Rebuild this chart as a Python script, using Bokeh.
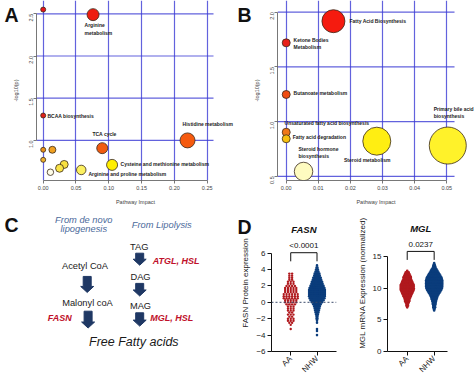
import math
from bokeh.plotting import figure
from bokeh.models import Range1d, FixedTicker, LinearAxis, NumeralTickFormatter, Span
from bokeh.layouts import row, column
from bokeh.embed import file_html
from bokeh.resources import INLINE
from bokeh.core.properties import value

FONT = "Liberation Sans"

# ---------------- Panel A data ----------------
a_impact = [0.0, 0.076, 0.0, 0.090, 0.220, 0.0, 0.014, 0.0, 0.032, 0.025, 0.011, 0.058, 0.105]
a_logp = [2.55, 2.49, 1.295, 0.908, 1.00, 0.889, 0.889, 0.77, 0.715, 0.67, 0.623, 0.65, 0.71]
a_size = [5, 12, 5, 11, 15, 5, 7, 5, 8, 8, 6.5, 9.5, 11]
a_color = ["#e8141a", "#ee1c10", "#e0201a", "#f05a10", "#f55a0f", "#e8901a", "#f0a020",
           "#eeb030", "#f8e040", "#fae448", "#fffde8", "#fcf060", "#ffee00"]
a_labels = ["Arginine\nmetabolism", "BCAA  biosynthesis", "TCA cycle", "Histidine metabolism",
            "Cysteine and methionine metabolism", "Arginine and proline metabolism"]
a_label_x = [0.063, 0.0065, 0.075, 0.2125, 0.118, 0.069]
a_label_y = [2.32, 1.295, 1.07, 1.19, 0.715, 0.597]
a_xticks = [0.0, 0.05, 0.10, 0.15, 0.20, 0.25]
a_yticks = [1.0, 1.5, 2.0, 2.5]

# ---------------- Panel B data ----------------
b_impact = [0.0147, 0.0, 0.0, 0.0, 0.0, 0.0054, 0.0282, 0.0503]
b_logp = [1.918, 1.72, 1.248, 0.903, 0.843, 0.544, 0.821, 0.781]
b_size = [23, 8, 8, 8, 8, 18.5, 28, 37]
b_color = ["#f51b0f", "#e8201a", "#f04c10", "#f07818", "#f8c010", "#fefbc0", "#ffee12", "#fff22a"]
b_labels = ["Fatty Acid Biosynthesis", "Ketone Bodies\nMetabolism", "Butanoate metabolism",
            "Unsaturated fatty acid biosynthesis", "Fatty acid degradation",
            "Steroid hormone\nbiosynthesis", "Steroid metabolism", "Primary bile acid\nbiosynthesis"]
b_label_x = [0.0197, 0.0023, 0.0023, -0.0005, 0.002, 0.0038, 0.018, 0.0459]
b_label_y = [1.924, 1.716, 1.265, 0.983, 0.855, 0.715, 0.653, 1.083]
b_xticks = [0.0, 0.01, 0.02, 0.03, 0.04, 0.05]
b_yticks = [0.5, 1.0, 1.5, 2.0]

# ---------------- Panel D data ----------------
groups = ["AA", "NHW"]
fasn_aa_levels = [3.5, 3.25, 3.0, 2.75, 2.5, 2.25, 2.0, 1.75, 1.5, 1.25, 1.0, 0.75, 0.5, 0.25, 0.0,
                  -0.25, -0.5, -0.75, -1.0, -1.25, -1.5, -1.75, -2.0, -2.25, -2.5, -2.75, -3.25]
fasn_aa_counts = [2, 2, 2, 2, 3, 3, 4, 5, 5, 5, 6, 6, 6, 5, 5, 4, 3, 3, 3, 2, 3, 2, 3, 3, 2, 1, 1]
fasn_nhw_levels = [4.5, 4.25, 4.0, 3.75, 3.5, 3.25, 3.0, 2.75, 2.5, 2.25, 2.0, 1.75, 1.5, 1.25, 1.0,
                   0.75, 0.5, 0.25, 0.0, -0.25, -0.5, -0.75, -1.0, -1.25, -1.5, -1.75, -2.0, -2.25,
                   -2.5, -3.25, -3.5, -4.0]
fasn_nhw_counts = [1, 2, 3, 4, 6, 7, 9, 10, 12, 13, 15, 17, 18, 18, 18, 18, 17, 15, 12, 9, 7, 6, 5,
                   4, 3, 2, 2, 1, 1, 1, 1, 1]
mgl_aa_levels = [12.75, 12.5, 12.25, 12.0, 11.75, 11.5, 11.25, 11.0, 10.75, 10.5, 10.25, 10.0, 9.75,
                 9.5, 9.25, 9.0, 8.75, 8.5, 8.25, 8.0, 7.75, 7.5, 7.25, 7.0]
mgl_aa_counts = [1, 3, 4, 5, 6, 6, 7, 8, 9, 10, 10, 10, 10, 9, 8, 7, 6, 5, 4, 4, 3, 2, 2, 1]
mgl_nhw_levels = [14.0, 13.75, 13.5, 13.25, 13.0, 12.75, 12.5, 12.25, 12.0, 11.75, 11.5, 11.25, 11.0,
                  10.75, 10.5, 10.25, 10.0, 9.75, 9.5, 9.25, 9.0, 8.75, 8.5, 8.25, 8.0, 7.75, 7.5,
                  7.25, 7.0, 6.75, 6.5]
mgl_nhw_counts = [1, 2, 3, 4, 6, 8, 10, 12, 14, 16, 17, 18, 18, 18, 18, 18, 17, 16, 14, 12, 10, 8, 7,
                  6, 5, 4, 4, 3, 3, 2, 1]
fasn_p = "<0.0001"
mgl_p = "0.0237"

# ---------------- Panel C diagram ----------------
c_black_text = ["TAG", "Acetyl CoA", "DAG", "Malonyl coA", "MAG"]
c_black_x = [138.8, 84.5, 140, 87, 140]
c_black_y = [40.3, 64.2, 78, 110.3, 114.7]
c_head_text = ["From de novo", "lipogenesis", "From Lipolysis"]
c_head_x = [83.3, 83.3, 161.3]
c_head_y = [7, 18, 12.5]
c_enzyme_text = ["ATGL, HSL", "FASN", "MGL, HSL"]
c_enzyme_x = [175.7, 59.2, 171.2]
c_enzyme_y = [57.8, 128.8, 128.8]
c_arrow_x = [139.2, 86.7, 139.2, 87.6, 139.2]
c_arrow_top = [48.3, 77.3, 86, 120.7, 122.7]
c_arrow_bottom = [63.3, 97.3, 101.7, 141.7, 139.3]

AX = "#555555"
GRID = "#3b3bd4"


def base_fig(w, h, xr, yr, bl, br, bt, bb, **kw):
    p = figure(width=w, height=h, x_range=Range1d(*xr), y_range=Range1d(*yr),
               output_backend="svg", toolbar_location=None,
               min_border_left=bl, min_border_right=br, min_border_top=bt, min_border_bottom=bb, **kw)
    p.outline_line_color = None
    p.background_fill_color = "white"
    p.border_fill_color = "white"
    return p


def panel_letter(p, letter, at, standoff):
    # the panel letter is drawn as the single label of an extra, line-less left axis
    ax = LinearAxis(ticker=FixedTicker(ticks=[at]), major_label_overrides={at: letter})
    ax.axis_line_color = None
    ax.major_tick_line_color = None
    ax.minor_tick_line_color = None
    ax.major_tick_out = 0
    ax.major_tick_in = 0
    ax.major_label_orientation = "horizontal"
    ax.major_label_standoff = standoff
    ax.major_label_text_font = FONT
    ax.major_label_text_font_size = "19.5px"
    ax.major_label_text_font_style = "bold"
    ax.major_label_text_color = "#111111"
    p.add_layout(ax, "left")


def style_pathway(p, xticks, yticks, xfmt, yfmt, grid_x0, grid_x1):
    p.xaxis.ticker = FixedTicker(ticks=xticks)
    p.yaxis.ticker = FixedTicker(ticks=yticks)
    p.xaxis.formatter = NumeralTickFormatter(format=xfmt)
    p.yaxis.formatter = NumeralTickFormatter(format=yfmt)
    p.xaxis.bounds = (xticks[0], xticks[-1])
    p.yaxis.bounds = (yticks[0], yticks[-1])
    p.yaxis.major_label_orientation = math.pi / 2
    for ax in p.axis:
        ax.major_label_text_font = FONT
        ax.major_label_text_font_size = "5.5px"
        ax.major_label_text_color = "#444444"
        ax.axis_label_text_font = FONT
        ax.axis_label_text_font_size = "5.5px"
        ax.axis_label_text_font_style = "normal"
        ax.axis_label_text_color = "#444444"
        ax.axis_line_color = AX
        ax.axis_line_width = 0.8
        ax.major_tick_line_color = AX
        ax.major_tick_line_width = 0.8
        ax.major_tick_out = 3
        ax.major_tick_in = 0
        ax.minor_tick_line_color = None
        ax.major_label_standoff = 2
    p.xaxis.axis_label = "Pathway Impact"
    p.yaxis.axis_label = "-log10(p)"
    p.xaxis.axis_label_standoff = 6
    p.yaxis.axis_label_standoff = 6
    p.xgrid.grid_line_color = GRID
    p.xgrid.grid_line_alpha = 0.8
    p.xgrid.grid_line_width = 1.2
    p.ygrid.visible = False
    # horizontal grid lines, limited to the plotting region as in the original
    p.segment(x0=[grid_x0] * len(yticks), y0=yticks, x1=[grid_x1] * len(yticks), y1=yticks,
              line_color=GRID, line_alpha=0.8, line_width=1.2, level="underlay")


# ---------------- Figure A ----------------
pA = base_fig(234, 210, (-0.0102, 0.2916), (0.5249, 2.6576), 36, 0, 0, 30)
style_pathway(pA, a_xticks, a_yticks, "0.00", "0.0", -0.0102, 0.2596)
pA.scatter(a_impact, a_logp, size=a_size, fill_color=a_color, line_color="#3a2a1a", line_width=0.8)
pA.text(a_label_x, a_label_y, text=a_labels, text_font=value(FONT), text_font_size="5px",
        text_font_style="bold", text_color="#222222", text_baseline="middle", text_align="left")
panel_letter(pA, "A", 2.489, -9)

# ---------------- Figure B ----------------
pB = base_fig(240, 210, (-0.00271, 0.05862), (0.4616, 2.107), 43, 0, 0, 30)
style_pathway(pB, b_xticks, b_yticks, "0.00", "0.0", -0.00271, 0.0524)
pB.scatter(b_impact, b_logp, size=b_size, fill_color=b_color, line_color="#3a2a1a", line_width=0.8)
pB.text(b_label_x, b_label_y, text=b_labels, text_font=value(FONT), text_font_size="5px",
        text_font_style="bold", text_color="#222222", text_baseline="middle", text_align="left")
panel_letter(pB, "B", 1.979, -1)

# ---------------- Figure C ----------------
pC = base_fig(234, 171, (0, 234), (171, 0), 0, 0, 0, 0, x_axis_type=None, y_axis_type=None)
pC.grid.visible = False


def block_arrow(xc, y0, y1, sw=8, hw=13, hl=7.5):
    xs = [xc - sw / 2, xc + sw / 2, xc + sw / 2, xc + hw / 2, xc, xc - hw / 2, xc - sw / 2]
    ys = [y0, y0, y1 - hl, y1 - hl, y1, y1 - hl, y1 - hl]
    return xs, ys


arrows = [block_arrow(x, t, b) for x, t, b in zip(c_arrow_x, c_arrow_top, c_arrow_bottom)]
pC.patches([a[0] for a in arrows], [a[1] for a in arrows], fill_color="#1f3864", line_color="#1f3864")
pC.text(c_black_x, c_black_y, text=c_black_text, text_font=value(FONT), text_font_size="9.3px",
        text_color="#1a1a1a", text_align="center", text_baseline="middle")
pC.text(c_head_x, c_head_y, text=c_head_text, text_font=value(FONT), text_font_size="9.3px",
        text_font_style="italic", text_color="#4b6a9b", text_align="center", text_baseline="middle")
pC.text(c_enzyme_x, c_enzyme_y, text=c_enzyme_text, text_font=value(FONT), text_font_size="9px",
        text_font_style="bold italic", text_color="#c0102a", text_align="center", text_baseline="middle")
pC.text([133.3], [158.8], text=["Free Fatty acids"], text_font=value(FONT), text_font_size="12.5px",
        text_font_style="italic", text_color="#1a1a1a", text_align="center", text_baseline="middle")
pC.text([11], [13], text=["C"], text_font=value(FONT), text_font_size="19.5px",
        text_font_style="bold", text_color="#111111", text_align="center", text_baseline="middle")

# ---------------- Figure D ----------------
PX = 28.3


def swarm(center, levels, counts, spacing):
    xs, ys = [], []
    for v, n in zip(levels, counts):
        for i in range(n):
            xs.append(center + (i - (n - 1) / 2) * spacing / PX)
            ys.append(v)
    return xs, ys


def style_dot(p, yticks, ylabel):
    p.xaxis.ticker = FixedTicker(ticks=[1, 2])
    p.xaxis.major_label_overrides = {1: groups[0], 2: groups[1]}
    p.xaxis.major_label_orientation = math.pi / 4
    p.yaxis.ticker = FixedTicker(ticks=yticks)
    p.yaxis.bounds = (yticks[0], yticks[-1])
    p.yaxis.axis_label = ylabel
    p.grid.visible = False
    for ax in p.axis:
        ax.major_label_text_font = FONT
        ax.major_label_text_font_size = "8px"
        ax.major_label_text_color = "#222222"
        ax.axis_label_text_font = FONT
        ax.axis_label_text_font_size = "8px"
        ax.axis_label_text_font_style = "normal"
        ax.axis_label_text_color = "#222222"
        ax.axis_line_color = "#111111"
        ax.axis_line_width = 1
        ax.major_tick_line_color = "#111111"
        ax.major_tick_out = 4
        ax.major_tick_in = 0
        ax.minor_tick_line_color = None
        ax.major_label_standoff = 2
    p.yaxis.axis_label_standoff = 3


RED = "#b0191e"
BLUE = "#0b3d7c"

pF = base_fig(120, 171, (0.2686, 2.742), (-6, 10.71), 32, 18, 4, 30)
style_dot(pF, [-6, -4, -2, 0, 2, 4, 6], "FASN Protein expression")
pF.add_layout(Span(location=0, dimension="width", line_color="#3a4a6a", line_dash="2 2", line_width=1))
x1, y1 = swarm(1, fasn_aa_levels, fasn_aa_counts, 3.0)
pF.scatter(x1, y1, size=2.4, fill_color=RED, line_color=None)
x2, y2 = swarm(2, fasn_nhw_levels, fasn_nhw_counts, 1.0)
pF.scatter(x2, y2, size=2.6, fill_color=BLUE, line_color=None)
pF.line([1, 1, 2, 2], [5.0, 6.05, 6.05, 5.0], line_color="#111111", line_width=1)
pF.text([1.5], [6.94], text=[fasn_p], text_font=value(FONT), text_font_size="8px",
        text_color="#111111", text_align="center", text_baseline="middle")
pF.text([1.5], [8.88], text=["FASN"], text_font=value(FONT), text_font_size="9.5px",
        text_font_style="bold italic", text_color="#111111", text_align="center", text_baseline="middle")
panel_letter(pF, "D", 10.48, -13)

pM = base_fig(120, 171, (0.2686, 2.4947), (0, 21.67), 30, 27, 4, 26)
style_dot(pM, [0, 5, 10, 15], "MGL mRNA Expression (normalized)")
x3, y3 = swarm(1, mgl_aa_levels, mgl_aa_counts, 1.5)
pM.scatter(x3, y3, size=2.8, fill_color=RED, line_color=None)
x4, y4 = swarm(2, mgl_nhw_levels, mgl_nhw_counts, 1.0)
pM.scatter(x4, y4, size=2.6, fill_color=BLUE, line_color=None)
pM.line([1, 1, 2, 2], [14.49, 15.83, 15.83, 14.49], line_color="#111111", line_width=1)
pM.text([1.5], [16.95], text=[mgl_p], text_font=value(FONT), text_font_size="8px",
        text_color="#111111", text_align="center", text_baseline="middle")
pM.text([1.5], [19.41], text=["MGL"], text_font=value(FONT), text_font_size="9.5px",
        text_font_style="bold italic", text_color="#111111", text_align="center", text_baseline="middle")

layout = column(row(pA, pB), row(pC, pF, pM))

open("out.html", "w").write(file_html(layout, INLINE))
